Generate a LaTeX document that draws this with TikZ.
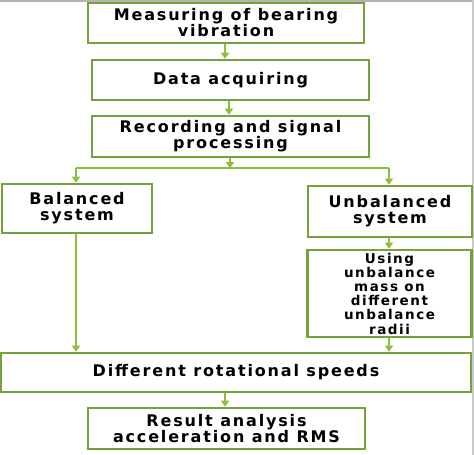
\documentclass[tikz,border=0pt]{standalone}
\usepackage{fontspec}
\setmainfont{DejaVu Sans}[LetterSpace=11.5]
\usetikzlibrary{arrows.meta}
\definecolor{boxgreen}{HTML}{77A23B}
\definecolor{arrgreen}{HTML}{8DBE3C}
\definecolor{edgegray}{HTML}{B4B4B4}
\tikzset{
  box/.style={draw=boxgreen, line width=2.6pt, fill=white, rectangle, align=center,
    inner sep=0pt, font=\bfseries\fontsize{16}{16}\selectfont, text=black},
  conn/.style={draw=arrgreen, line width=1.6pt},
  arr/.style={conn, -{Triangle[width=8pt,length=6pt]}}
}
\begin{document}
\begin{tikzpicture}[x=1pt,y=-1pt]
\useasboundingbox (0,0) rectangle (474,455);
\fill[white] (0,0) rectangle (474,455);
\fill[edgegray] (0,0) rectangle (474,2);
\fill[edgegray!70] (472,0) rectangle (474,455);

\node[box, minimum width=276pt, minimum height=40pt] (b1) at (226,23) {Measuring of bearing\\vibration};
\node[box, minimum width=277pt, minimum height=40pt] (b2) at (230.5,80) {Data acquiring};
\node[box, minimum width=277pt, minimum height=41pt] (b3) at (230.5,136.5) {Recording and signal\\processing};
\node[box, minimum width=150pt, minimum height=49pt] (bal) at (77,208.5) {Balanced\\system};
\node[box, minimum width=164pt, minimum height=51pt] (unb) at (390,211.5) {Unbalanced\\system};
\node[box, minimum width=164pt, minimum height=87pt, font=\bfseries\fontsize{13.5}{14.2}\selectfont] (use) at (389.5,293.5) {Using\\unbalance\\mass on\\different\\unbalance\\radii};
\node[box, minimum width=470pt, minimum height=39pt] (drs) at (236,372.5) {Different rotational speeds};
\node[box, minimum width=277pt, minimum height=41pt] (res) at (226.5,428.5) {Result analysis\\acceleration and RMS};

\coordinate (split) at (230,168);
\coordinate (splitL) at (76,168);
\coordinate (splitR) at (389,168);

\draw[arr] (b1.south -| 225,0) -- (b2.north -| 225,0);
\draw[arr] (b2.south -| 229,0) -- (b3.north -| 229,0);
\draw[arr] (b3.south -| split) -- (split);
\draw[conn] (splitL) -- (splitR);
\draw[arr] (splitL) -- (bal.north -| splitL);
\draw[arr] (splitR) -- (unb.north -| splitR);
\draw[arr] (bal.south -| splitL) -- (drs.north -| splitL);
\draw[arr] (unb.south -| splitR) -- (use.north -| splitR);
\draw[arr] (use.south -| splitR) -- (drs.north -| splitR);
\draw[arr] (drs.south -| 225,0) -- (res.north -| 225,0);
\end{tikzpicture}
\end{document}
